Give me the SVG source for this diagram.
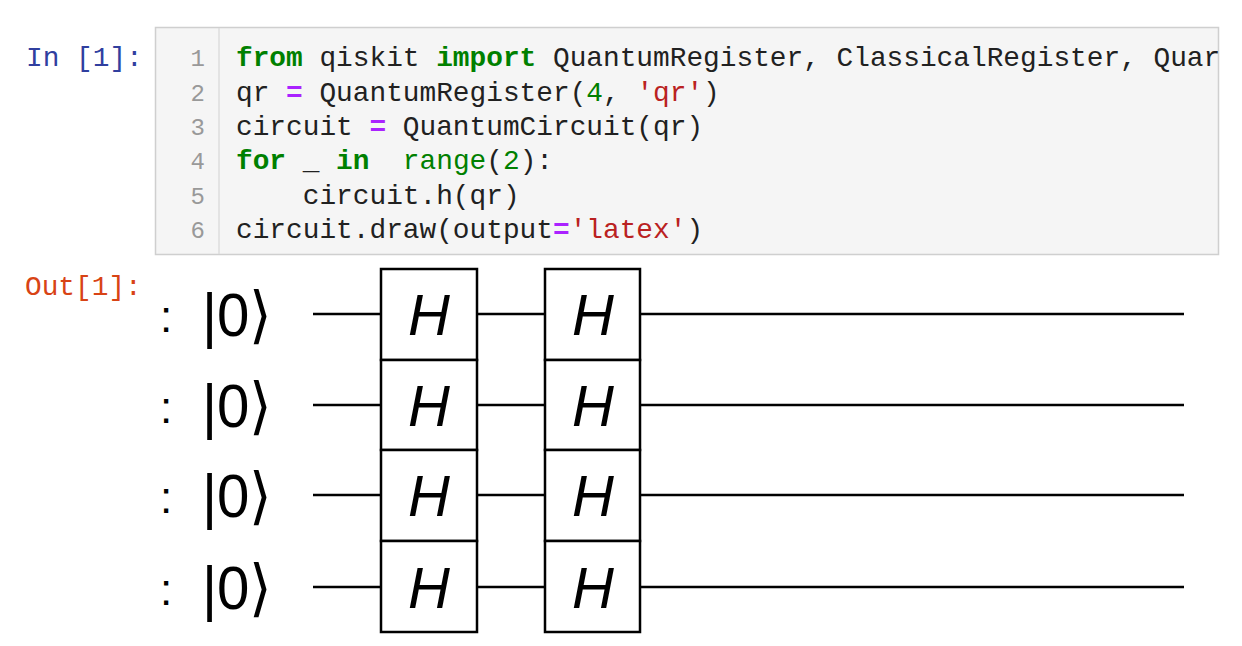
<svg xmlns="http://www.w3.org/2000/svg" width="1242" height="646" viewBox="0 0 1242 646">
<style>
.c{font-family:"Liberation Mono","DejaVu Sans Mono",monospace;font-size:27.8px;fill:#212121}
.k{fill:#008000;font-weight:bold}
.o{fill:#AA22FF;font-weight:bold}
.n{fill:#008000}
.s{fill:#BA2121}
.ln{font-family:"Liberation Mono",monospace;font-size:24px;fill:#999;text-anchor:end}
.w{stroke:#000;stroke-width:2.5}
.g{fill:#fff;stroke:#000;stroke-width:2.5}
.h{font-family:"Liberation Sans",Arial,sans-serif;font-style:italic;font-size:58px;text-anchor:middle}
.k0{font-family:"Liberation Sans",Arial,sans-serif;font-size:62px}
.col{font-family:"Liberation Sans",Arial,sans-serif;font-size:44px}
</style>
<rect width="1242" height="646" fill="#fff"/>
<text x="26" y="66" class="c" style="fill:#303F9F">In [1]:</text>
<text x="25" y="295" class="c" style="fill:#D84315">Out[1]:</text>
<rect x="155.5" y="27.5" width="1063" height="227" fill="#f5f5f5" stroke="#cfcfcf" stroke-width="1.5"/>
<line x1="219" y1="28" x2="219" y2="254" stroke="#ddd" stroke-width="1.5"/>
<g class="ln">
<text x="205" y="66">1</text><text x="205" y="101">2</text><text x="205" y="135">3</text>
<text x="205" y="169">4</text><text x="205" y="204">5</text><text x="205" y="238">6</text>
</g>
<text x="236" y="66" class="c" xml:space="preserve"><tspan class="k">from</tspan> qiskit <tspan class="k">import</tspan> QuantumRegister, ClassicalRegister, Quar</text>
<text x="236" y="101" class="c" xml:space="preserve">qr <tspan class="o">=</tspan> QuantumRegister(<tspan class="n">4</tspan>, <tspan class="s">'qr'</tspan>)</text>
<text x="236" y="135" class="c" xml:space="preserve">circuit <tspan class="o">=</tspan> QuantumCircuit(qr)</text>
<text x="236" y="169" class="c" xml:space="preserve"><tspan class="k">for</tspan> _ <tspan class="k">in</tspan>  <tspan class="n">range</tspan>(<tspan class="n">2</tspan>):</text>
<text x="236" y="204" class="c" xml:space="preserve">    circuit.h(qr)</text>
<text x="236" y="238" class="c" xml:space="preserve">circuit.draw(output<tspan class="o">=</tspan><tspan class="s">'latex'</tspan>)</text>
<g>
<line class="w" x1="313" y1="314" x2="1184" y2="314"/>
<line class="w" x1="313" y1="405" x2="1184" y2="405"/>
<line class="w" x1="313" y1="495" x2="1184" y2="495"/>
<line class="w" x1="313" y1="587" x2="1184" y2="587"/>
</g>
<g>
<rect class="g" x="381" y="269" width="96" height="91"/><rect class="g" x="381" y="360" width="96" height="90"/>
<rect class="g" x="381" y="450" width="96" height="91"/><rect class="g" x="381" y="541" width="96" height="91"/>
<rect class="g" x="545" y="269" width="95" height="91"/><rect class="g" x="545" y="360" width="95" height="90"/>
<rect class="g" x="545" y="450" width="95" height="91"/><rect class="g" x="545" y="541" width="95" height="91"/>
</g>
<g class="h">
<text x="429" y="335">H</text><text x="429" y="426">H</text><text x="429" y="516">H</text><text x="429" y="608">H</text>
<text x="593" y="335">H</text><text x="593" y="426">H</text><text x="593" y="516">H</text><text x="593" y="608">H</text>
</g>
<g class="col">
<text x="160" y="332">:</text><text x="160" y="423">:</text><text x="160" y="513">:</text><text x="160" y="605">:</text>
</g>
<g class="k0">
<text x="202" y="336" textLength="70" lengthAdjust="spacingAndGlyphs">|0⟩</text>
<text x="202" y="427" textLength="70" lengthAdjust="spacingAndGlyphs">|0⟩</text>
<text x="202" y="517" textLength="70" lengthAdjust="spacingAndGlyphs">|0⟩</text>
<text x="202" y="609" textLength="70" lengthAdjust="spacingAndGlyphs">|0⟩</text>
</g>
</svg>
